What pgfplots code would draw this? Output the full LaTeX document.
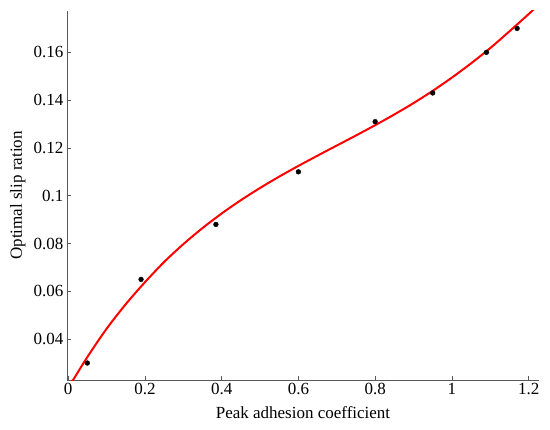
\documentclass[border=0pt]{standalone}
\usepackage{pgfplots}
\pgfplotsset{compat=1.18}
\usepackage{fontspec}
\setmainfont{Liberation Serif}
\begin{document}
\begin{tikzpicture}
\path[use as bounding box] (-67bp,-50bp) rectangle (483bp,380bp);
\begin{axis}[
  scale only axis,
  width=472bp, height=369bp,
  at={(0,0)}, anchor=south west,
  xmin=-0.003, xmax=1.227,
  ymin=0.0229, ymax=0.1773,
  axis lines*=left,
  axis line style={draw=black!65, line width=0.8pt},
  tick align=inside,
  major tick length=4bp,
  tick style={draw=black!65, line width=0.6pt},
  xtick={0,0.2,0.4,0.6,0.8,1,1.2},
  xticklabels={\textrm{0},\textrm{0.2},\textrm{0.4},\textrm{0.6},\textrm{0.8},\textrm{1},\textrm{1.2}},
  ytick={0.04,0.06,0.08,0.1,0.12,0.14,0.16},
  yticklabels={\textrm{0.04},\textrm{0.06},\textrm{0.08},\textrm{0.1},\textrm{0.12},\textrm{0.14},\textrm{0.16}},
  /pgf/number format/assume math mode=true,
  ticklabel style={font=\rmfamily\fontsize{17bp}{19bp}\selectfont, text=black},
  label style={font=\rmfamily\fontsize{17bp}{19bp}\selectfont},
  xlabel={Peak adhesion coefficient},
  ylabel={Optimal slip ration},
  xlabel style={at={(axis description cs:0.5,-0.0894)}, anchor=center},
  ylabel style={at={(axis description cs:-0.104,0.5)}, anchor=center, rotate=0},
  clip=true,
]
\addplot[red, line width=2bp, smooth, no marks] coordinates {
(0.0,0.0195) (0.05,0.0325) (0.1,0.0443) (0.15,0.0546) (0.2,0.0638)
(0.25,0.07226) (0.3,0.07972) (0.35,0.08645) (0.4,0.09256) (0.45,0.09813)
(0.5,0.10324) (0.55,0.1080) (0.6,0.11248) (0.65,0.11679) (0.7,0.121)
(0.75,0.12521) (0.8,0.12952) (0.85,0.13401) (0.9,0.13876) (0.95,0.14388)
(1.0,0.14944) (1.05,0.15540) (1.1,0.16180) (1.15,0.1688) (1.2,0.1760) (1.25,0.1835)
};
\addplot[only marks, mark=*, mark size=2.4bp, black] coordinates {
(0.05,0.030) (0.19,0.065) (0.385,0.088) (0.6,0.110) (0.8,0.131)
(0.95,0.143) (1.09,0.160) (1.17,0.170)
};
\end{axis}
\end{tikzpicture}
\end{document}
